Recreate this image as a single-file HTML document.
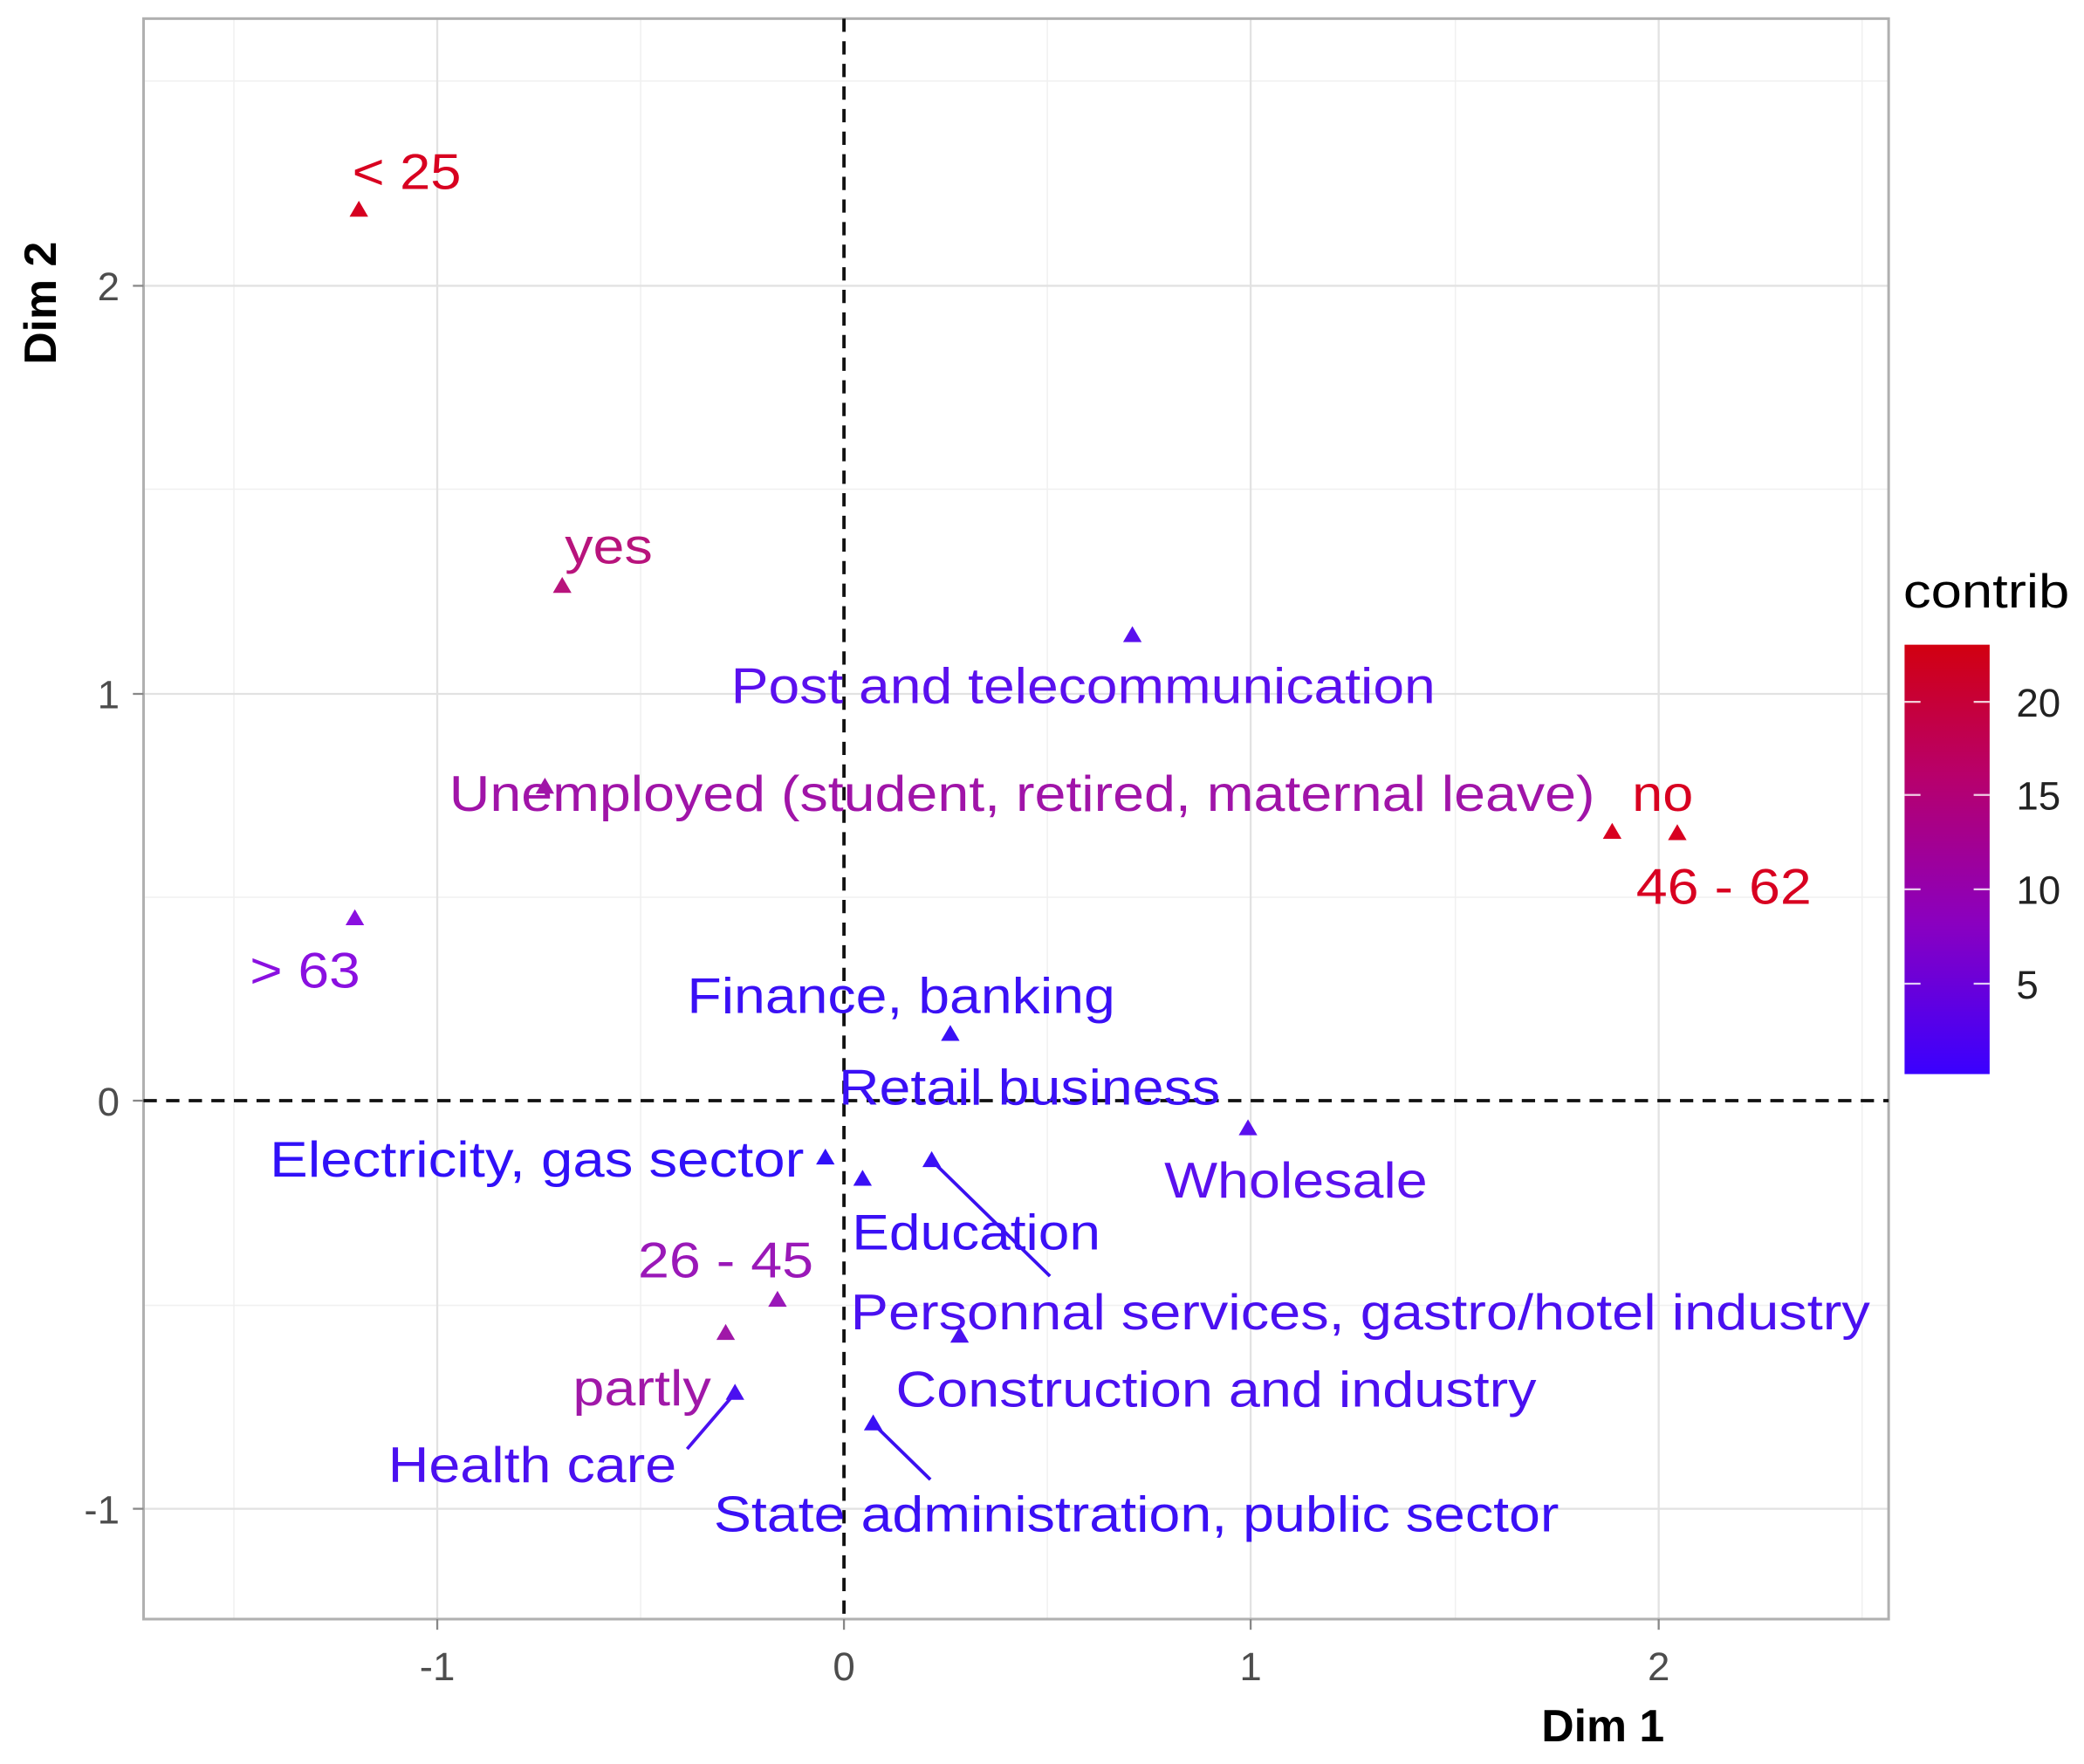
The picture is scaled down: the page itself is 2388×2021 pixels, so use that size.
<!DOCTYPE html>
<html><head><meta charset="utf-8"><style>html,body{margin:0;padding:0;background:#fff}svg{display:block}</style></head>
<body>
<svg width="2388" height="2021" viewBox="0 0 1568 1327" preserveAspectRatio="none" xmlns="http://www.w3.org/2000/svg" font-family="Liberation Sans, Arial, sans-serif">
<defs>
<linearGradient id="cb" x1="0" y1="1" x2="0" y2="0">
<stop offset="0" stop-color="#3a00ff"/>
<stop offset="0.35" stop-color="#8a00c0"/>
<stop offset="0.7" stop-color="#b8006a"/>
<stop offset="1" stop-color="#d20010"/>
</linearGradient>
</defs>
<rect width="1568" height="1327" fill="#fff"/>
<g stroke="#f0f0f0" stroke-width="1">
<line x1="176" y1="14" x2="176" y2="1218"/><line x1="482" y1="14" x2="482" y2="1218"/><line x1="788" y1="14" x2="788" y2="1218"/><line x1="1095" y1="14" x2="1095" y2="1218"/><line x1="1401" y1="14" x2="1401" y2="1218"/>
<line x1="108" y1="61" x2="1421" y2="61"/><line x1="108" y1="368" x2="1421" y2="368"/><line x1="108" y1="675" x2="1421" y2="675"/><line x1="108" y1="982" x2="1421" y2="982"/>
</g>
<g stroke="#e2e2e2" stroke-width="1.5">
<line x1="329" y1="14" x2="329" y2="1218"/><line x1="941" y1="14" x2="941" y2="1218"/><line x1="1248" y1="14" x2="1248" y2="1218"/>
<line x1="108" y1="215" x2="1421" y2="215"/><line x1="108" y1="522" x2="1421" y2="522"/><line x1="108" y1="1135" x2="1421" y2="1135"/>
</g>
<rect x="108" y="14" width="1313" height="1204" fill="none" stroke="#b0b0b0" stroke-width="2"/>
<g stroke="#111" stroke-width="2.5" stroke-dasharray="10,7">
<line x1="635" y1="14" x2="635" y2="1218"/>
<line x1="108" y1="828" x2="1421" y2="828"/>
</g>
<g stroke="#888" stroke-width="1.5">
<line x1="329" y1="1218" x2="329" y2="1226"/><line x1="635" y1="1218" x2="635" y2="1226"/><line x1="941" y1="1218" x2="941" y2="1226"/><line x1="1248" y1="1218" x2="1248" y2="1226"/>
<line x1="100" y1="215" x2="108" y2="215"/><line x1="100" y1="522" x2="108" y2="522"/><line x1="100" y1="828" x2="108" y2="828"/><line x1="100" y1="1135" x2="108" y2="1135"/>
</g>
<g fill="#4d4d4d" font-size="30">
<text x="90" y="226" text-anchor="end">2</text>
<text x="90" y="533" text-anchor="end">1</text>
<text x="90" y="839" text-anchor="end">0</text>
<text x="90" y="1146" text-anchor="end">-1</text>
<text x="329" y="1264" text-anchor="middle">-1</text>
<text x="635" y="1264" text-anchor="middle">0</text>
<text x="941" y="1264" text-anchor="middle">1</text>
<text x="1248" y="1264" text-anchor="middle">2</text>
</g>
<text x="1206" y="1310" font-size="34" font-weight="bold" fill="#000" text-anchor="middle">Dim 1</text>
<text transform="translate(42,228) rotate(-90)" font-size="34" font-weight="bold" fill="#000" text-anchor="middle">Dim 2</text>
<g stroke-width="2.5">
<line x1="701" y1="873" x2="790" y2="960" stroke="#3a10f0"/>
<line x1="553" y1="1048" x2="517" y2="1090" stroke="#4a10f0"/>
<line x1="657" y1="1071" x2="700" y2="1113" stroke="#3a10f0"/>
</g>
<g>
<path d="M270,151 l7,12 h-14z" fill="#d60020"/>
<path d="M423,434 l7,12 h-14z" fill="#b8137c"/>
<path d="M852,471 l7,12 h-14z" fill="#5a10ee"/>
<path d="M410,585 l7,12 h-14z" fill="#a014a8"/>
<path d="M1213,619 l7,12 h-14z" fill="#d80020"/>
<path d="M1262,620 l7,12 h-14z" fill="#d80020"/>
<path d="M267,684 l7,12 h-14z" fill="#8a10e0"/>
<path d="M715,771 l7,12 h-14z" fill="#3a10f5"/>
<path d="M939,842 l7,12 h-14z" fill="#5a10ee"/>
<path d="M621,864 l7,12 h-14z" fill="#3010f8"/>
<path d="M649,880 l7,12 h-14z" fill="#3a10f5"/>
<path d="M701,866 l7,12 h-14z" fill="#3a10f5"/>
<path d="M585,971 l7,12 h-14z" fill="#9a18b8"/>
<path d="M546,996 l7,12 h-14z" fill="#a018a8"/>
<path d="M722,998 l7,12 h-14z" fill="#4a10f0"/>
<path d="M553,1041 l7,12 h-14z" fill="#4a10f0"/>
<path d="M657,1064 l7,12 h-14z" fill="#3a10f5"/>
</g>
<g font-size="38">
<text x="265" y="142" fill="#d80020" textLength="82" lengthAdjust="spacingAndGlyphs">&lt; 25</text>
<text x="425" y="424" fill="#b8137c" textLength="66" lengthAdjust="spacingAndGlyphs">yes</text>
<text x="550" y="529" fill="#5a10ee" textLength="530" lengthAdjust="spacingAndGlyphs">Post and telecommunication</text>
<text x="338" y="610" fill="#a014a8" textLength="862" lengthAdjust="spacingAndGlyphs">Unemployed (student, retired, maternal leave)</text>
<text x="1228" y="610" fill="#d80020" textLength="46" lengthAdjust="spacingAndGlyphs">no</text>
<text x="1231" y="680" fill="#d80020" textLength="132" lengthAdjust="spacingAndGlyphs">46 - 62</text>
<text x="188" y="743" fill="#8a10e0" textLength="83" lengthAdjust="spacingAndGlyphs">&gt; 63</text>
<text x="517" y="762" fill="#3a10f5" textLength="322" lengthAdjust="spacingAndGlyphs">Finance, banking</text>
<text x="631" y="831" fill="#3a10f5" textLength="287" lengthAdjust="spacingAndGlyphs">Retail business</text>
<text x="203" y="885" fill="#3010f8" textLength="402" lengthAdjust="spacingAndGlyphs">Electricity, gas sector</text>
<text x="876" y="901" fill="#5a10ee" textLength="198" lengthAdjust="spacingAndGlyphs">Wholesale</text>
<text x="641" y="940" fill="#3a10f5" textLength="187" lengthAdjust="spacingAndGlyphs">Education</text>
<text x="480" y="961" fill="#9a18b8" textLength="132" lengthAdjust="spacingAndGlyphs">26 - 45</text>
<text x="640" y="1000" fill="#4a10f0" textLength="767" lengthAdjust="spacingAndGlyphs">Personnal services, gastro/hotel industry</text>
<text x="431" y="1057" fill="#a018a8" textLength="104" lengthAdjust="spacingAndGlyphs">partly</text>
<text x="674" y="1058" fill="#4a10f0" textLength="482" lengthAdjust="spacingAndGlyphs">Construction and industry</text>
<text x="292" y="1115" fill="#4a10f0" textLength="217" lengthAdjust="spacingAndGlyphs">Health care</text>
<text x="537" y="1152" fill="#3a10f5" textLength="636" lengthAdjust="spacingAndGlyphs">State administration, public sector</text>
</g>
<text x="1432" y="457" font-size="36" fill="#000" textLength="125" lengthAdjust="spacingAndGlyphs">contrib</text>
<rect x="1433" y="485" width="64" height="323" fill="url(#cb)"/>
<g stroke="#fff" stroke-width="1.5" opacity="0.8">
<line x1="1433" y1="528" x2="1445" y2="528"/><line x1="1485" y1="528" x2="1497" y2="528"/>
<line x1="1433" y1="598" x2="1445" y2="598"/><line x1="1485" y1="598" x2="1497" y2="598"/>
<line x1="1433" y1="669" x2="1445" y2="669"/><line x1="1485" y1="669" x2="1497" y2="669"/>
<line x1="1433" y1="740" x2="1445" y2="740"/><line x1="1485" y1="740" x2="1497" y2="740"/>
</g>
<g font-size="30" fill="#222">
<text x="1517" y="539">20</text>
<text x="1517" y="609">15</text>
<text x="1517" y="680">10</text>
<text x="1517" y="751">5</text>
</g>
</svg>
</body></html>
